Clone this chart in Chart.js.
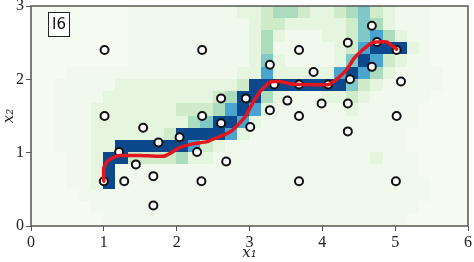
<!DOCTYPE html>
<html>
<head>
<meta charset="utf-8">
<script src="https://cdn.jsdelivr.net/npm/chart.js@4.4.0/dist/chart.umd.min.js"></script>
<style>
    html, body { margin: 0; padding: 0; background: #ffffff; }
</style>
</head>
<body>
<canvas id="pathChart" width="474" height="262"></canvas>
<script>
// Heat map cells, one string per grid row, top row first (level 0..7)
const gridStep = 1 / 6;
const heatRows = [
    '000000001111111112234432234532111000',
    '000000001111111111233222223542111000',
    '000000001111111111242111223564211000',
    '000000001111111111241111123677721000',
    '000000001111111111252111125763211000',
    '000111111111111112262222267642111100',
    '001111122222222223777777775321111100',
    '001111222222222347742111223211111000',
    '001112222222333467621111112111110000',
    '001112222222245776211111111111110000',
    '001112222223777762111111111111100000',
    '001112277777763211111111111111100000',
    '000112773333422111111111111121110000',
    '000112711111111111111111111111110000',
    '000112711111111111111111111111111000',
    '000011111111111111111111111111111000',
    '000001111111111111111111111111110000',
    '000000111111111111111111111111100000'
];

// Sample points
const pointsX = [1.00, 1.21, 1.28, 1.44, 1.54, 1.68, 1.68, 1.75, 2.04, 2.28, 2.34, 2.61, 2.68, 2.61,
    2.95, 3.01, 3.28, 3.34, 3.52, 3.68, 3.99, 4.08, 4.35, 4.38, 4.35, 3.28, 3.88, 4.68, 4.75, 4.35,
    4.68, 5.08, 5.02, 3.68, 5.01, 1.01, 2.35, 3.68, 1.01, 2.35, 3.68, 5.02];
const pointsY = [0.61, 1.01, 0.61, 0.84, 1.34, 0.68, 0.28, 1.14, 1.21, 1.01, 0.61, 1.40, 0.88, 1.74,
    1.74, 1.35, 1.58, 1.93, 1.71, 1.93, 1.67, 1.93, 1.67, 2.00, 1.29, 2.20, 2.10, 2.17, 2.51, 2.50,
    2.73, 1.97, 2.40, 0.61, 0.61, 2.40, 2.40, 2.40, 1.50, 1.50, 1.50, 1.50];

// Red path
const pathX = [1.00, 1.00, 1.05, 1.14, 1.23, 1.50, 1.82, 1.91, 2.04, 2.22, 2.42, 2.54, 2.67, 2.76,
    2.86, 2.94, 3.03, 3.14, 3.28, 3.42, 3.55, 3.68, 4.09, 4.22, 4.34, 4.43, 4.54, 4.68, 4.75, 4.88, 5.02];
const pathY = [0.61, 0.80, 0.88, 0.94, 0.96, 0.96, 0.95, 0.99, 1.07, 1.12, 1.15, 1.20, 1.25, 1.30,
    1.40, 1.49, 1.65, 1.83, 1.96, 1.97, 1.94, 1.93, 1.93, 2.02, 2.14, 2.28, 2.39, 2.50, 2.51, 2.51, 2.41];

const panelLabel = 'I6';
const xTicks = [0, 1, 2, 3, 4, 5, 6];
const yTicks = [0, 1, 2, 3];

// colours for the heat levels
const heatColors = ['#f6fbf1', '#f0f9eb', '#e6f5e0', '#d0ebc9', '#aadcbd', '#80c9c6', '#4aa4d0', '#0b488c'];
const serif = "'Liberation Serif', 'DejaVu Serif', serif";
const titleFont = "'DejaVu Serif', serif";

// draws the grid cells behind the data
const heatmapPlugin = {
    id: 'heatmap',
    beforeDatasetsDraw(chart) {
        const ctx = chart.ctx;
        const x = chart.scales.x, y = chart.scales.y;
        const nRows = heatRows.length;
        ctx.save();
        heatRows.forEach((row, r) => {
            const j = nRows - 1 - r;
            for (let i = 0; i < row.length; i++) {
                const x0 = Math.floor(x.getPixelForValue(i * gridStep));
                const x1 = Math.ceil(x.getPixelForValue((i + 1) * gridStep));
                const y0 = Math.floor(y.getPixelForValue((j + 1) * gridStep));
                const y1 = Math.ceil(y.getPixelForValue(j * gridStep));
                ctx.fillStyle = heatColors[+row[i]];
                ctx.fillRect(x0, y0, x1 - x0, y1 - y0);
            }
        });
        ctx.restore();
    },
    afterDraw(chart) {
        const ctx = chart.ctx;
        const a = chart.chartArea;
        ctx.save();
        // frame
        ctx.strokeStyle = '#555555';
        ctx.lineWidth = 1.5;
        ctx.strokeRect(a.left, a.top, a.right - a.left, a.bottom - a.top);
        // panel label box
        ctx.fillStyle = '#ffffff';
        ctx.fillRect(a.left + 17, a.top + 6, 21, 24);
        ctx.strokeStyle = '#222222';
        ctx.lineWidth = 1;
        ctx.strokeRect(a.left + 17.5, a.top + 6.5, 21, 24);
        ctx.fillStyle = '#111111';
        ctx.font = "15px 'DejaVu Sans', sans-serif";
        ctx.textAlign = 'center';
        ctx.textBaseline = 'middle';
        ctx.fillText(panelLabel, a.left + 28, a.top + 19);
        ctx.restore();
    }
};

function fixedAxis(size, horizontal) {
    return function (scale) {
        if (horizontal) scale.height = size; else scale.width = size;
        scale.paddingLeft = 0;
        scale.paddingRight = 0;
        scale.paddingTop = 0;
        scale.paddingBottom = 0;
    };
}

new Chart(document.getElementById('pathChart').getContext('2d'), {
    type: 'scatter',
    data: {
        datasets: [
            {
                type: 'line',
                data: pathX.map((v, k) => ({ x: v, y: pathY[k] })),
                borderColor: '#e3161f',
                borderWidth: 3.5,
                borderJoinStyle: 'round',
                borderCapStyle: 'round',
                pointRadius: 0,
                tension: 0.15,
                fill: false,
                order: 0
            },
            {
                data: pointsX.map((v, k) => ({ x: v, y: pointsY[k] })),
                pointRadius: 4,
                pointBorderWidth: 2,
                pointBorderColor: '#111111',
                pointBackgroundColor: '#ffffff',
                order: 1
            }
        ]
    },
    options: {
        responsive: false,
        animation: false,
        layout: { padding: { top: 4, right: 4, left: 0, bottom: 0 } },
        plugins: { legend: { display: false }, tooltip: { enabled: false } },
        scales: {
            x: {
                type: 'linear', min: 0, max: 6,
                afterBuildTicks: (s) => { s.ticks = xTicks.map(v => ({ value: v })); },
                ticks: { font: { family: serif, size: 16 }, color: '#222222', padding: 2 },
                grid: { display: true, drawOnChartArea: false, drawTicks: true, tickLength: 5, color: '#555555' },
                border: { display: false },
                title: { display: true, text: 'x₁', color: '#222222', padding: 0,
                    font: { family: titleFont, size: 15, style: 'italic' } },
                afterFit: fixedAxis(36, true)
            },
            y: {
                type: 'linear', min: 0, max: 3,
                afterBuildTicks: (s) => { s.ticks = yTicks.map(v => ({ value: v })); },
                ticks: { font: { family: serif, size: 16 }, color: '#222222', padding: 2 },
                grid: { display: true, drawOnChartArea: false, drawTicks: true, tickLength: 5, color: '#555555' },
                border: { display: false },
                title: { display: true, text: 'x₂', color: '#222222', padding: 0,
                    font: { family: titleFont, size: 15, style: 'italic' } },
                afterFit: fixedAxis(31, false)
            }
        }
    },
    plugins: [heatmapPlugin]
});
</script>
</body>
</html>
